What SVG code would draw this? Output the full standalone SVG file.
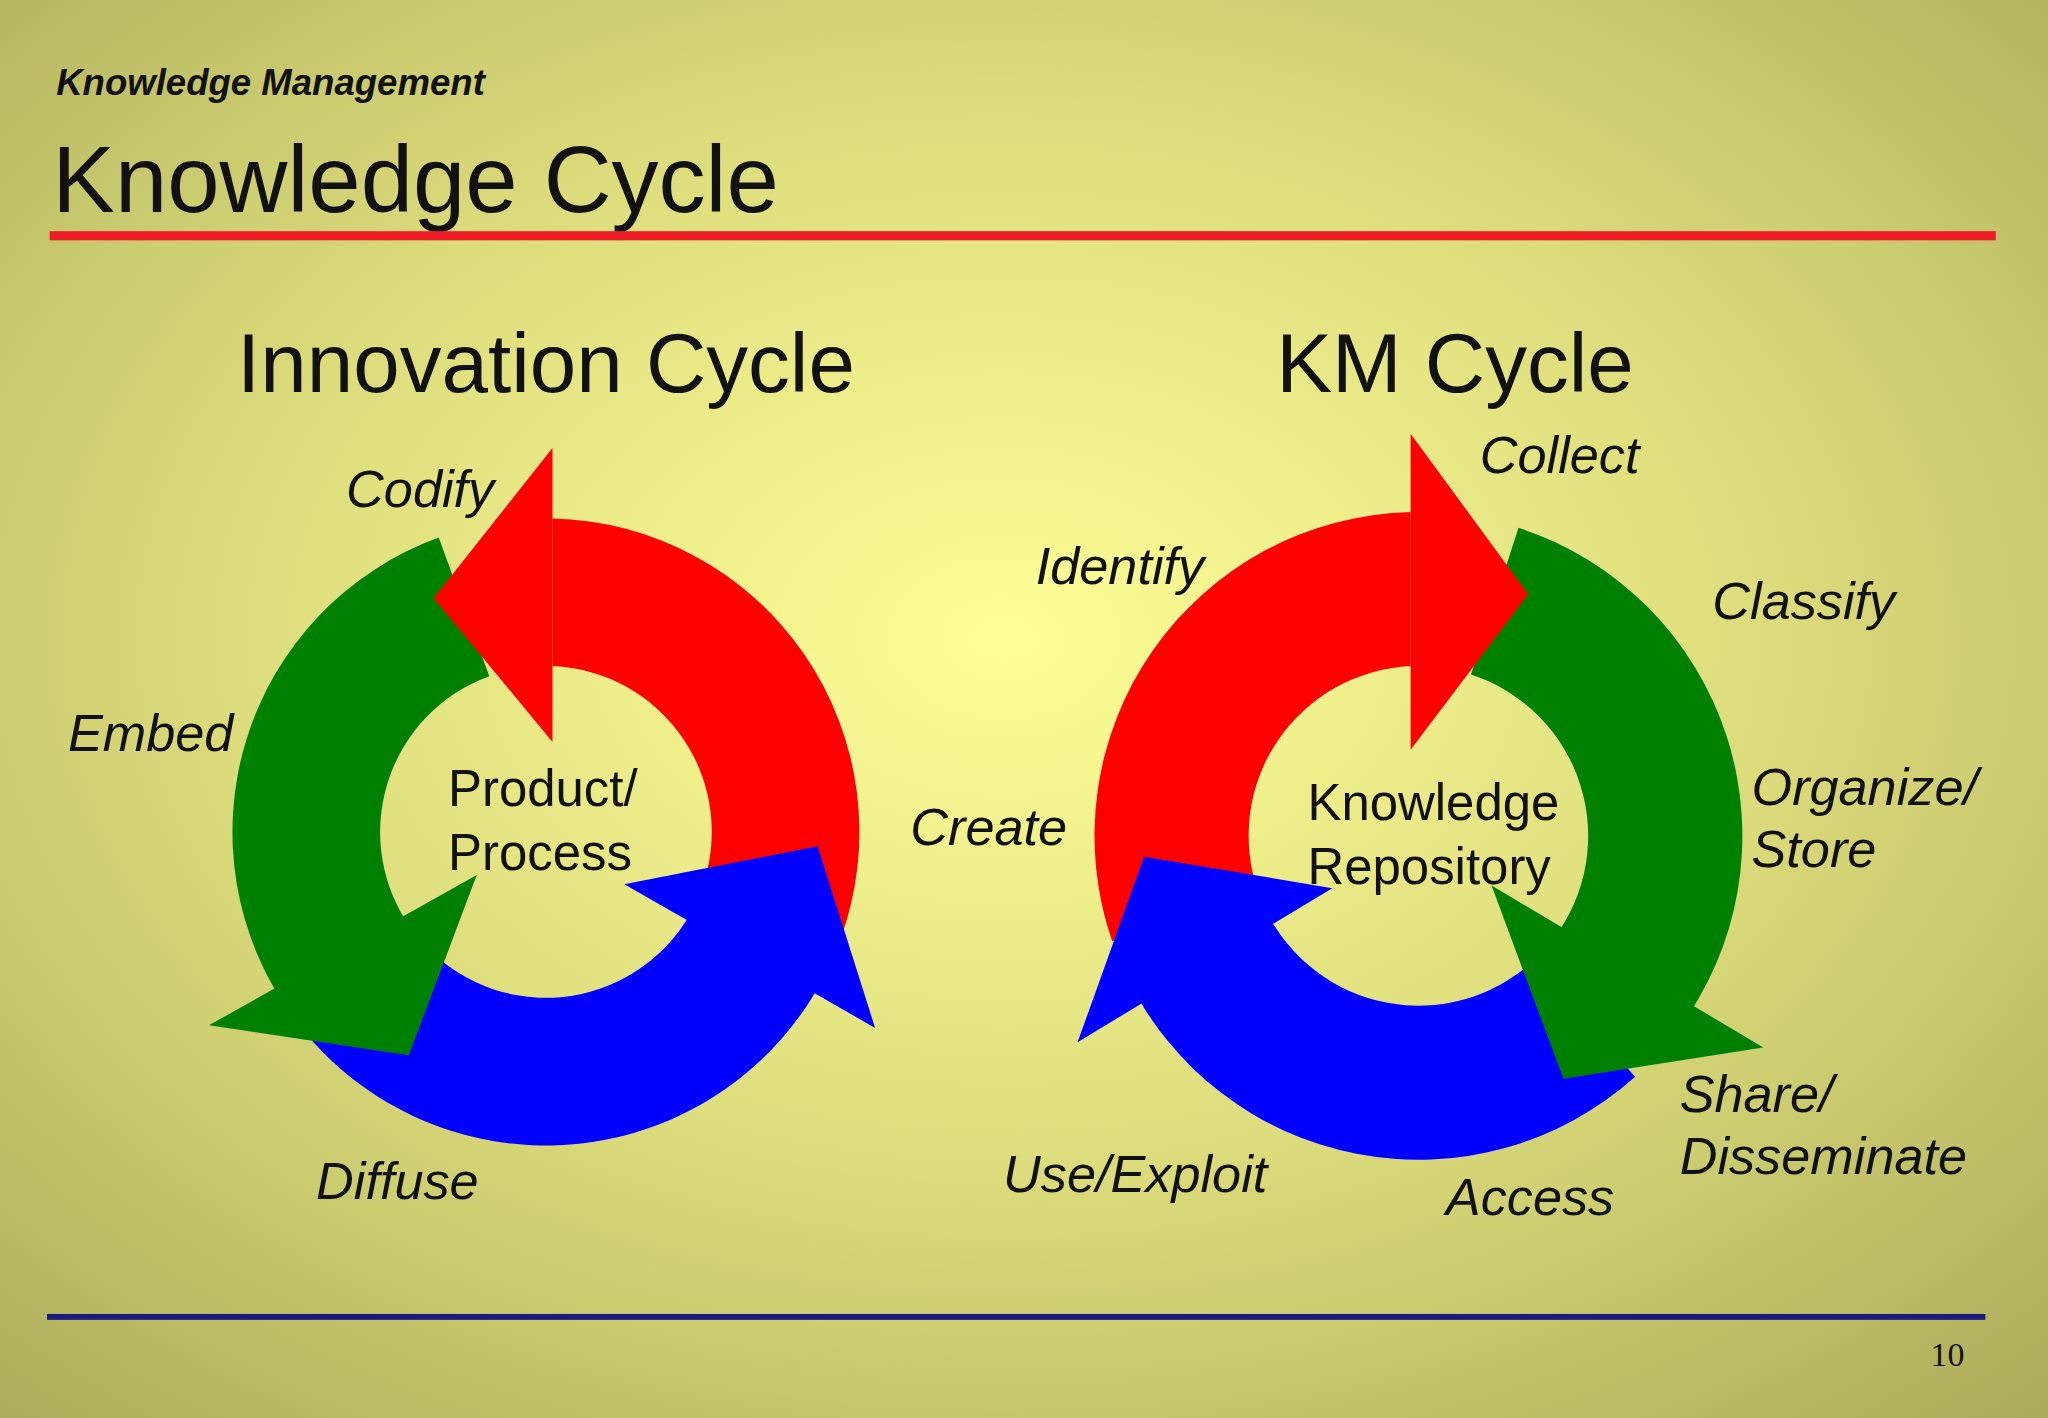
<svg xmlns="http://www.w3.org/2000/svg" width="2048" height="1418" viewBox="0 0 2048 1418">
<defs>
<radialGradient id="bg" cx="0.49" cy="0.45" r="0.75">
<stop offset="0" stop-color="#FFFF99"/>
<stop offset="0.5" stop-color="#DCDC7C"/>
<stop offset="1" stop-color="#ABAB5A"/>
</radialGradient>
<style>
.lbl{font-family:"Liberation Sans",Arial,sans-serif;font-style:italic;font-size:40px;fill:#111}
.ctr{font-family:"Liberation Sans",Arial,sans-serif;font-size:39px;fill:#111}
.r{fill:#FF0000}.g{fill:#008000}.b{fill:#0000FF}
</style>
</defs>
<rect width="2048" height="1418" fill="url(#bg)"/>
<g transform="scale(1.30612)">
<text x="43" y="73" font-family="Liberation Sans,Arial,sans-serif" font-weight="bold" font-style="italic" font-size="28" fill="#111">Knowledge Management</text>
<text x="40" y="162" font-family="Liberation Sans,Arial,sans-serif" font-size="72" fill="#111">Knowledge Cycle</text>
<rect x="38" y="177" width="1490" height="7" fill="#EE1C25"/>
<rect x="36" y="1006" width="1484" height="4.5" fill="#1A1A80"/>
<text x="1504" y="1046" text-anchor="end" font-family="Liberation Serif,serif" font-size="26" fill="#111">10</text>
<text x="418" y="300" text-anchor="middle" font-family="Liberation Sans,Arial,sans-serif" font-size="64" fill="#111">Innovation Cycle</text>
<text x="1114" y="300" text-anchor="middle" font-family="Liberation Sans,Arial,sans-serif" font-size="64" fill="#111">KM Cycle</text>
<g id="innovation-cycle">
<path class="g" d="M 335.9 411.5 A 240 240 0 0 0 223.8 778.1 L 315.3 711.7 A 127 127 0 0 1 374.6 517.7 Z"/>
<path class="b" d="M 221.4 774.7 A 240 240 0 0 0 635.5 738.4 L 533.1 690.7 A 127 127 0 0 1 314 709.8 Z"/>
<path class="r" d="M 643.5 719.1 A 240 240 0 0 0 423 397 L 423 510 A 127 127 0 0 1 537.3 680.4 Z"/>
<polygon class="r" points="423,343 423,568 332,458"/>
<polygon class="g" points="160,785 365,670 313,808"/>
<polygon class="b" points="478,677 670,787 626,648"/>
</g>
<g id="km-cycle">
<path class="r" d="M 851.5 720.7 A 248 248 0 0 1 1080 392 L 1080 510 A 130 130 0 0 0 963.1 682.3 Z"/>
<path class="g" d="M 1162.6 404.1 A 248 248 0 0 1 1284.1 789.2 L 1189.8 718.2 A 130 130 0 0 0 1126.2 516.4 Z"/>
<path class="b" d="M 1251.9 824.3 A 248 248 0 0 1 863.1 748.7 L 969.2 697 A 130 130 0 0 0 1173 736.6 Z"/>
<polygon class="r" points="1080,332 1080,574 1170,455"/>
<polygon class="g" points="1142,678 1350,802 1197,826"/>
<polygon class="b" points="1020,680 825,798 876,656"/>
</g>
<g id="labels">
<text class="lbl" x="265" y="388">Codify</text>
<text class="lbl" x="52" y="575">Embed</text>
<text class="lbl" x="242" y="918">Diffuse</text>
<text class="lbl" x="697" y="647">Create</text>
<text class="ctr" x="343" y="617">Product/</text>
<text class="ctr" x="343" y="666">Process</text>
<text class="lbl" x="1133" y="362">Collect</text>
<text class="lbl" x="793" y="447">Identify</text>
<text class="lbl" x="1311" y="474">Classify</text>
<text class="lbl" x="1341" y="616">Organize/</text>
<text class="lbl" x="1341" y="664">Store</text>
<text class="lbl" x="1286" y="851">Share/</text>
<text class="lbl" x="1286" y="899">Disseminate</text>
<text class="lbl" x="768" y="913">Use/Exploit</text>
<text class="lbl" x="1107" y="930">Access</text>
<text class="ctr" x="1001" y="628">Knowledge</text>
<text class="ctr" x="1001" y="677">Repository</text>
</g>
</g>
</svg>
